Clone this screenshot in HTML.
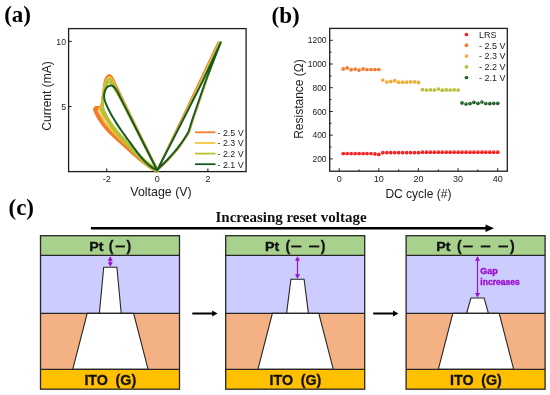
<!DOCTYPE html>
<html><head><meta charset="utf-8"><style>
html,body{margin:0;padding:0;background:#fff;width:550px;height:395px;overflow:hidden}
svg{display:block;will-change:transform}
</style></head><body>
<svg width="550" height="395" viewBox="0 0 550 395">
<rect width="550" height="395" fill="#fff"/>
<text x="4.2" y="22" font-family="'Liberation Serif', serif" font-weight="bold" font-size="23">(a)</text>
<text x="271.5" y="23.4" font-family="'Liberation Serif', serif" font-weight="bold" font-size="23">(b)</text>
<text x="8.5" y="215" font-family="'Liberation Serif', serif" font-weight="bold" font-size="23">(c)</text>
<rect x="68.6" y="28.6" width="177.5" height="143" fill="none" stroke="#1e1e1e" stroke-width="1.3"/>
<line x1="106.7" y1="171.6" x2="106.7" y2="168.6" stroke="#1e1e1e" stroke-width="1.1"/>
<text x="106.7" y="182" text-anchor="middle" font-family="'Liberation Sans', sans-serif" font-size="9" fill="#222">-2</text>
<line x1="157.3" y1="171.6" x2="157.3" y2="168.6" stroke="#1e1e1e" stroke-width="1.1"/>
<text x="157.3" y="182" text-anchor="middle" font-family="'Liberation Sans', sans-serif" font-size="9" fill="#222">0</text>
<line x1="207.9" y1="171.6" x2="207.9" y2="168.6" stroke="#1e1e1e" stroke-width="1.1"/>
<text x="207.9" y="182" text-anchor="middle" font-family="'Liberation Sans', sans-serif" font-size="9" fill="#222">2</text>
<line x1="68.6" y1="106.5" x2="71.6" y2="106.5" stroke="#1e1e1e" stroke-width="1.1"/>
<text x="66" y="109.8" text-anchor="end" font-family="'Liberation Sans', sans-serif" font-size="8.7" fill="#222">5</text>
<line x1="68.6" y1="41.4" x2="71.6" y2="41.4" stroke="#1e1e1e" stroke-width="1.1"/>
<text x="66" y="44.7" text-anchor="end" font-family="'Liberation Sans', sans-serif" font-size="8.7" fill="#222">10</text>
<text x="161" y="196" text-anchor="middle" font-family="'Liberation Sans', sans-serif" font-size="12.4" fill="#222">Voltage (V)</text>
<text transform="translate(51,96) rotate(-90)" text-anchor="middle" font-family="'Liberation Sans', sans-serif" font-size="12" fill="#222">Current (mA)</text>
<path d="M101.60,106.20 L100.50,108.20 L95.80,108.20 L95.40,109.20 L95.11,109.32 L95.44,110.17 L95.77,111.01 L96.13,111.85 L96.49,112.67 L96.87,113.48 L97.26,114.29 L97.67,115.08 L98.08,115.87 L98.51,116.64 L98.95,117.41 L99.40,118.17 L99.87,118.93 L100.34,119.67 L100.83,120.41 L101.32,121.14 L101.83,121.86 L102.34,122.58 L102.87,123.29 L103.40,123.99 L103.95,124.68 L104.50,125.37 L105.06,126.06 L105.62,126.74 L106.20,127.41 L106.78,128.08 L107.37,128.74 L107.97,129.39 L108.57,130.05 L109.18,130.69 L109.80,131.34 L110.42,131.98 L111.05,132.61 L111.68,133.24 L112.31,133.87 L112.95,134.50 L113.60,135.12 L114.25,135.74 L114.90,136.35 L115.56,136.97 L116.22,137.58 L116.88,138.19 L117.54,138.79 L118.21,139.40 L118.88,140.00 L119.55,140.61 L120.22,141.21 L120.89,141.81 L121.56,142.41 L122.23,143.01 L122.91,143.61 L123.58,144.21 L124.25,144.81 L124.92,145.41 L125.59,146.01 L126.26,146.61 L126.93,147.22 L127.60,147.82 L128.26,148.42 L128.93,149.02 L129.60,149.62 L130.26,150.22 L130.93,150.82 L131.59,151.42 L132.26,152.02 L132.93,152.61 L133.59,153.21 L134.26,153.80 L134.93,154.39 L135.60,154.98 L136.27,155.57 L136.94,156.15 L137.61,156.73 L138.29,157.31 L138.97,157.88 L139.64,158.45 L140.33,159.02 L141.01,159.58 L141.69,160.14 L142.38,160.69 L143.07,161.24 L143.77,161.79 L144.46,162.33 L145.16,162.86 L145.86,163.39 L146.57,163.92 L147.28,164.43 L147.99,164.95 L148.71,165.45 L149.43,165.96 L150.16,166.45 L150.89,166.94 L151.62,167.42 L152.36,167.89 L153.10,168.36 L153.85,168.82 L154.61,169.27 L155.36,169.71 L156.13,170.14 L156.90,170.57" fill="none" stroke="#F47A2C" stroke-width="4.2" stroke-linejoin="round" stroke-linecap="round"/>
<path d="M157.20,170.20 L122.20,98.90 L122.20,98.90 C121.13,96.67 117.50,89.02 115.80,85.50 C114.10,81.98 113.08,79.50 112.00,77.80 C110.92,76.10 110.20,75.35 109.30,75.30 C108.40,75.25 107.33,76.38 106.60,77.50 C105.87,78.62 105.40,79.75 104.90,82.00 C104.40,84.25 104.02,87.83 103.60,91.00 C103.18,94.17 102.73,98.47 102.40,101.00 C102.07,103.53 101.73,105.33 101.60,106.20" fill="none" stroke="#F47A2C" stroke-width="2.6" stroke-linejoin="round" stroke-linecap="round"/>
<path d="M157.20,170.20 L181.30,120.00 L199.90,81.00 L218.20,42.30 L219.60,42.30 L206.30,81.00 L192.90,120.00 L189.40,131.80 L189.40,131.80 C188.70,132.93 186.70,136.30 185.20,138.60 C183.70,140.90 182.10,143.28 180.40,145.60 C178.70,147.92 176.95,150.20 175.00,152.50 C173.05,154.80 170.90,157.12 168.70,159.40 C166.50,161.68 163.72,164.40 161.80,166.20 C159.88,168.00 157.97,169.53 157.20,170.20" fill="none" stroke="#F47A2C" stroke-width="1.8" stroke-linejoin="round" stroke-linecap="round"/>
<path d="M157.20,170.20 L121.20,97.50 L121.20,97.50 C120.22,95.63 116.87,89.35 115.30,86.30 C113.73,83.25 112.78,80.70 111.80,79.20 C110.82,77.70 110.23,77.28 109.40,77.30 C108.57,77.32 107.57,78.10 106.80,79.30 C106.03,80.50 105.43,82.22 104.80,84.50 C104.17,86.78 103.50,90.00 103.00,93.00 C102.50,96.00 102.17,100.17 101.80,102.50 C101.43,104.83 100.97,106.25 100.80,107.00 L99.40,108.20 L99.40,109.20 L99.40,109.20 C99.82,110.17 100.97,112.82 101.90,115.00 C102.83,117.18 103.48,119.88 105.00,122.30 C106.52,124.72 108.83,127.08 111.00,129.50 C113.17,131.92 115.30,134.13 118.00,136.80 C120.70,139.47 123.98,142.58 127.20,145.50 C130.42,148.42 134.78,151.77 137.30,154.30 C139.82,156.83 140.27,158.68 142.30,160.70 C144.33,162.72 147.02,164.82 149.50,166.40 C151.98,167.98 155.92,169.57 157.20,170.20" fill="none" stroke="#F2C83C" stroke-width="2.0" stroke-linejoin="round" stroke-linecap="round"/>
<path d="M157.20,170.20 L182.00,120.00 L200.90,81.00 L219.00,42.30 L220.10,42.30 L206.10,81.00 L192.70,120.00 L189.10,131.80 L189.10,131.80 C188.40,132.93 186.40,136.32 184.90,138.60 C183.40,140.88 181.80,143.22 180.10,145.50 C178.40,147.78 176.63,150.02 174.70,152.30 C172.77,154.58 170.68,156.92 168.50,159.20 C166.32,161.48 163.48,164.17 161.60,166.00 C159.72,167.83 157.93,169.50 157.20,170.20" fill="none" stroke="#F2C83C" stroke-width="1.5" stroke-linejoin="round" stroke-linecap="round"/>
<path d="M157.20,170.20 L120.00,97.50 L120.00,97.50 C119.08,96.00 115.90,90.83 114.50,88.50 C113.10,86.17 112.43,84.55 111.60,83.50 C110.77,82.45 110.23,82.20 109.50,82.20 C108.77,82.20 107.90,82.45 107.20,83.50 C106.50,84.55 105.90,86.58 105.30,88.50 C104.70,90.42 104.02,92.58 103.60,95.00 C103.18,97.42 102.97,100.75 102.80,103.00 C102.63,105.25 102.63,107.58 102.60,108.50" fill="none" stroke="#B9BF34" stroke-width="2.6" stroke-linejoin="round" stroke-linecap="round"/>
<path d="M157.20,170.20 L120.20,96.50 L120.20,96.50 C119.25,94.83 115.93,89.08 114.50,86.50 C113.07,83.92 112.43,82.20 111.60,81.00 C110.77,79.80 110.23,79.30 109.50,79.30 C108.77,79.30 107.90,79.80 107.20,81.00 C106.50,82.20 105.90,84.33 105.30,86.50 C104.70,88.67 104.05,91.25 103.60,94.00 C103.15,96.75 102.83,100.58 102.60,103.00 C102.37,105.42 102.27,107.58 102.20,108.50" fill="none" stroke="#B9BF34" stroke-width="2.4" stroke-linejoin="round" stroke-linecap="round"/>
<path d="M102.13,108.57 L102.45,109.37 L102.77,110.16 L103.10,110.94 L103.44,111.72 L103.79,112.49 L104.14,113.26 L104.51,114.02 L104.89,114.77 L105.28,115.52 L105.67,116.26 L106.07,117.00 L106.48,117.74 L106.90,118.46 L107.33,119.19 L107.77,119.91 L108.21,120.62 L108.66,121.33 L109.11,122.03 L109.58,122.74 L110.05,123.43 L110.53,124.12 L111.01,124.81 L111.50,125.50 L111.99,126.18 L112.49,126.85 L113.00,127.53 L113.51,128.19 L114.03,128.86 L114.55,129.52 L115.08,130.18 L115.61,130.84 L116.15,131.49 L116.69,132.15 L117.23,132.79 L117.78,133.44 L118.33,134.08 L118.89,134.72 L119.45,135.36 L120.01,136.00 L120.58,136.63 L121.15,137.27 L121.72,137.90 L122.29,138.53 L122.86,139.16 L123.44,139.78 L124.02,140.41 L124.60,141.03 L125.18,141.66 L125.77,142.28 L126.35,142.90 L126.94,143.52 L127.52,144.14 L128.11,144.76 L128.69,145.38 L129.28,146.00 L129.87,146.61 L130.46,147.23 L131.04,147.85 L131.63,148.46 L132.22,149.08 L132.81,149.69 L133.40,150.31 L133.99,150.92 L134.58,151.53 L135.18,152.13 L135.77,152.74 L136.37,153.34 L136.97,153.94 L137.57,154.54 L138.17,155.14 L138.77,155.73 L139.38,156.32 L139.98,156.91 L140.59,157.49 L141.20,158.07 L141.82,158.65 L142.43,159.22 L143.05,159.79 L143.68,160.35 L144.30,160.91 L144.93,161.47 L145.56,162.02 L146.20,162.57 L146.84,163.11 L147.48,163.64 L148.12,164.17 L148.77,164.70 L149.42,165.22 L150.08,165.73 L150.74,166.24 L151.41,166.74 L152.08,167.24 L152.75,167.73 L153.43,168.21 L154.11,168.69 L154.80,169.16 L155.49,169.62 L156.19,170.07 L156.89,170.52" fill="none" stroke="#B9BF34" stroke-width="4.2" stroke-linejoin="round" stroke-linecap="round"/>
<path d="M157.20,170.20 L182.50,120.00 L201.80,81.00 L219.80,42.30 L220.50,42.30 L205.90,81.00 L192.50,120.00 L188.80,131.80 L188.80,131.80 C188.10,132.92 186.10,136.23 184.60,138.50 C183.10,140.77 181.50,143.12 179.80,145.40 C178.10,147.68 176.33,149.92 174.40,152.20 C172.47,154.48 170.37,156.82 168.20,159.10 C166.03,161.38 163.23,164.05 161.40,165.90 C159.57,167.75 157.90,169.48 157.20,170.20" fill="none" stroke="#B9BF34" stroke-width="1.5" stroke-linejoin="round" stroke-linecap="round"/>
<path d="M157.20,170.20 L121.00,98.90 L120.96,98.89 L120.66,98.34 L120.35,97.69 L120.00,96.97 L119.64,96.18 L119.25,95.34 L118.84,94.46 L118.41,93.55 L117.95,92.63 L117.47,91.71 L116.96,90.80 L116.43,89.93 L115.87,89.09 L115.29,88.32 L114.68,87.61 L114.05,86.98 L113.38,86.45 L112.69,86.04 L111.98,85.74 L111.24,85.58 L110.48,85.55 L109.73,85.65 L109.00,85.89 L108.29,86.25 L107.62,86.74 L107.00,87.35 L106.43,88.07 L105.92,88.87 L105.46,89.73 L105.07,90.65 L104.74,91.59 L104.48,92.54 L104.29,93.49 L104.16,94.42 L104.10,95.34 L104.10,96.24 L104.16,97.13 L104.26,98.00 L104.41,98.87 L104.60,99.72 L104.83,100.57 L105.09,101.41 L105.38,102.23 L105.69,103.06 L106.03,103.87 L106.37,104.69 L106.72,105.49 L107.08,106.30 L107.45,107.10 L107.83,107.90 L108.21,108.70 L108.59,109.49 L108.99,110.28 L109.39,111.07 L109.80,111.86 L110.21,112.64 L110.63,113.42 L111.05,114.20 L111.48,114.97 L111.92,115.75 L112.36,116.52 L112.80,117.28 L113.25,118.05 L113.71,118.81 L114.17,119.57 L114.63,120.33 L115.10,121.09 L115.58,121.85 L116.06,122.60 L116.54,123.35 L117.02,124.10 L117.51,124.85 L118.00,125.60 L118.50,126.34 L119.00,127.08 L119.50,127.83 L120.01,128.57 L120.52,129.31 L121.03,130.04 L121.54,130.78 L122.06,131.51 L122.58,132.25 L123.10,132.98 L123.62,133.71 L124.14,134.44 L124.67,135.17 L125.20,135.90 L125.73,136.63 L126.26,137.36 L126.79,138.09 L127.32,138.81 L127.85,139.54 L128.39,140.27 L128.92,140.99 L129.46,141.71 L129.99,142.44 L130.53,143.16 L131.06,143.89 L131.60,144.61 L132.13,145.33 L132.66,146.06 L133.20,146.78 L133.73,147.51 L134.26,148.23 L134.79,148.95 L135.32,149.68 L135.86,150.40 L136.39,151.12 L136.92,151.84 L137.46,152.55 L137.99,153.27 L138.54,153.98 L139.08,154.68 L139.63,155.38 L140.18,156.08 L140.74,156.77 L141.31,157.45 L141.88,158.12 L142.46,158.79 L143.04,159.45 L143.64,160.11 L144.24,160.75 L144.86,161.38 L145.48,162.01 L146.11,162.62 L146.76,163.23 L147.41,163.82 L148.08,164.40 L148.76,164.96 L149.45,165.52 L150.16,166.05 L150.88,166.58 L151.62,167.09 L152.37,167.59 L153.14,168.07 L153.93,168.53 L154.73,168.98 L155.55,169.41 L156.39,169.82 L157.25,170.21" fill="none" stroke="#145C24" stroke-width="2.0" stroke-linejoin="round" stroke-linecap="round"/>
<path d="M157.20,170.20 L183.00,120.00 L202.80,81.00 L220.80,42.30 L220.80,42.30 L205.60,81.00 L192.20,120.00 L188.50,131.70 L188.50,131.70 C187.82,132.83 185.88,136.22 184.40,138.50 C182.92,140.78 181.30,143.12 179.60,145.40 C177.90,147.68 176.13,149.93 174.20,152.20 C172.27,154.47 170.17,156.72 168.00,159.00 C165.83,161.28 163.00,164.03 161.20,165.90 C159.40,167.77 157.87,169.48 157.20,170.20" fill="none" stroke="#145C24" stroke-width="1.9" stroke-linejoin="round" stroke-linecap="round"/>
<line x1="195" y1="132.3" x2="215.5" y2="132.3" stroke="#F47A2C" stroke-width="1.8"/>
<text x="217.6" y="135.6" font-family="'Liberation Sans', sans-serif" font-size="8.8" fill="#222">- 2.5 V</text>
<line x1="195" y1="143.0" x2="215.5" y2="143.0" stroke="#F2C83C" stroke-width="1.8"/>
<text x="217.6" y="146.3" font-family="'Liberation Sans', sans-serif" font-size="8.8" fill="#222">- 2.3 V</text>
<line x1="195" y1="153.6" x2="215.5" y2="153.6" stroke="#B9BF34" stroke-width="1.8"/>
<text x="217.6" y="156.9" font-family="'Liberation Sans', sans-serif" font-size="8.8" fill="#222">- 2.2 V</text>
<line x1="195" y1="164.2" x2="215.5" y2="164.2" stroke="#145C24" stroke-width="1.8"/>
<text x="217.6" y="167.6" font-family="'Liberation Sans', sans-serif" font-size="8.8" fill="#222">- 2.1 V</text>
<rect x="329.7" y="28.4" width="177.6" height="142.8" fill="none" stroke="#1e1e1e" stroke-width="1.3"/>
<line x1="339.2" y1="171.2" x2="339.2" y2="168.2" stroke="#1e1e1e" stroke-width="1"/>
<text x="339.2" y="181.5" text-anchor="middle" font-family="'Liberation Sans', sans-serif" font-size="9" fill="#222">0</text>
<line x1="359.0" y1="171.2" x2="359.0" y2="169.4" stroke="#1e1e1e" stroke-width="1"/>
<line x1="378.8" y1="171.2" x2="378.8" y2="168.2" stroke="#1e1e1e" stroke-width="1"/>
<text x="378.8" y="181.5" text-anchor="middle" font-family="'Liberation Sans', sans-serif" font-size="9" fill="#222">10</text>
<line x1="398.6" y1="171.2" x2="398.6" y2="169.4" stroke="#1e1e1e" stroke-width="1"/>
<line x1="418.4" y1="171.2" x2="418.4" y2="168.2" stroke="#1e1e1e" stroke-width="1"/>
<text x="418.4" y="181.5" text-anchor="middle" font-family="'Liberation Sans', sans-serif" font-size="9" fill="#222">20</text>
<line x1="438.3" y1="171.2" x2="438.3" y2="169.4" stroke="#1e1e1e" stroke-width="1"/>
<line x1="458.1" y1="171.2" x2="458.1" y2="168.2" stroke="#1e1e1e" stroke-width="1"/>
<text x="458.1" y="181.5" text-anchor="middle" font-family="'Liberation Sans', sans-serif" font-size="9" fill="#222">30</text>
<line x1="477.9" y1="171.2" x2="477.9" y2="169.4" stroke="#1e1e1e" stroke-width="1"/>
<line x1="497.7" y1="171.2" x2="497.7" y2="168.2" stroke="#1e1e1e" stroke-width="1"/>
<text x="497.7" y="181.5" text-anchor="middle" font-family="'Liberation Sans', sans-serif" font-size="9" fill="#222">40</text>
<line x1="329.7" y1="158.9" x2="332.7" y2="158.9" stroke="#1e1e1e" stroke-width="1"/>
<text x="326.6" y="161.9" text-anchor="end" font-family="'Liberation Sans', sans-serif" font-size="8.5" fill="#222">200</text>
<line x1="329.7" y1="147.0" x2="331.5" y2="147.0" stroke="#1e1e1e" stroke-width="1"/>
<line x1="329.7" y1="135.2" x2="332.7" y2="135.2" stroke="#1e1e1e" stroke-width="1"/>
<text x="326.6" y="138.2" text-anchor="end" font-family="'Liberation Sans', sans-serif" font-size="8.5" fill="#222">400</text>
<line x1="329.7" y1="123.3" x2="331.5" y2="123.3" stroke="#1e1e1e" stroke-width="1"/>
<line x1="329.7" y1="111.5" x2="332.7" y2="111.5" stroke="#1e1e1e" stroke-width="1"/>
<text x="326.6" y="114.5" text-anchor="end" font-family="'Liberation Sans', sans-serif" font-size="8.5" fill="#222">600</text>
<line x1="329.7" y1="99.6" x2="331.5" y2="99.6" stroke="#1e1e1e" stroke-width="1"/>
<line x1="329.7" y1="87.7" x2="332.7" y2="87.7" stroke="#1e1e1e" stroke-width="1"/>
<text x="326.6" y="90.7" text-anchor="end" font-family="'Liberation Sans', sans-serif" font-size="8.5" fill="#222">800</text>
<line x1="329.7" y1="75.9" x2="331.5" y2="75.9" stroke="#1e1e1e" stroke-width="1"/>
<line x1="329.7" y1="64.0" x2="332.7" y2="64.0" stroke="#1e1e1e" stroke-width="1"/>
<text x="326.6" y="67.0" text-anchor="end" font-family="'Liberation Sans', sans-serif" font-size="8.5" fill="#222">1000</text>
<line x1="329.7" y1="52.2" x2="331.5" y2="52.2" stroke="#1e1e1e" stroke-width="1"/>
<line x1="329.7" y1="40.3" x2="332.7" y2="40.3" stroke="#1e1e1e" stroke-width="1"/>
<text x="326.6" y="43.3" text-anchor="end" font-family="'Liberation Sans', sans-serif" font-size="8.5" fill="#222">1200</text>
<text x="418.4" y="198.4" text-anchor="middle" font-family="'Liberation Sans', sans-serif" font-size="12" fill="#222">DC cycle (#)</text>
<text transform="translate(303.2,99) rotate(-90)" text-anchor="middle" font-family="'Liberation Sans', sans-serif" font-size="12" fill="#222">Resistance (Ω)</text>
<circle cx="343.2" cy="153.5" r="1.85" fill="#FA1414"/>
<circle cx="342.7" cy="152.9" r="0.6" fill="#fff" fill-opacity="0.45"/>
<circle cx="347.1" cy="153.5" r="1.85" fill="#FA1414"/>
<circle cx="346.6" cy="152.9" r="0.6" fill="#fff" fill-opacity="0.45"/>
<circle cx="351.1" cy="153.5" r="1.85" fill="#FA1414"/>
<circle cx="350.6" cy="152.9" r="0.6" fill="#fff" fill-opacity="0.45"/>
<circle cx="355.1" cy="153.5" r="1.85" fill="#FA1414"/>
<circle cx="354.6" cy="152.9" r="0.6" fill="#fff" fill-opacity="0.45"/>
<circle cx="359.0" cy="153.5" r="1.85" fill="#FA1414"/>
<circle cx="358.5" cy="152.9" r="0.6" fill="#fff" fill-opacity="0.45"/>
<circle cx="363.0" cy="153.5" r="1.85" fill="#FA1414"/>
<circle cx="362.5" cy="152.9" r="0.6" fill="#fff" fill-opacity="0.45"/>
<circle cx="366.9" cy="153.5" r="1.85" fill="#FA1414"/>
<circle cx="366.4" cy="152.9" r="0.6" fill="#fff" fill-opacity="0.45"/>
<circle cx="370.9" cy="153.5" r="1.85" fill="#FA1414"/>
<circle cx="370.4" cy="152.9" r="0.6" fill="#fff" fill-opacity="0.45"/>
<circle cx="374.9" cy="153.9" r="1.85" fill="#FA1414"/>
<circle cx="374.4" cy="153.3" r="0.6" fill="#fff" fill-opacity="0.45"/>
<circle cx="378.8" cy="154.4" r="1.85" fill="#FA1414"/>
<circle cx="378.3" cy="153.8" r="0.6" fill="#fff" fill-opacity="0.45"/>
<circle cx="382.8" cy="152.6" r="1.85" fill="#FA1414"/>
<circle cx="382.3" cy="152.0" r="0.6" fill="#fff" fill-opacity="0.45"/>
<circle cx="386.8" cy="152.6" r="1.85" fill="#FA1414"/>
<circle cx="386.2" cy="152.0" r="0.6" fill="#fff" fill-opacity="0.45"/>
<circle cx="390.7" cy="152.6" r="1.85" fill="#FA1414"/>
<circle cx="390.2" cy="152.0" r="0.6" fill="#fff" fill-opacity="0.45"/>
<circle cx="394.7" cy="152.6" r="1.85" fill="#FA1414"/>
<circle cx="394.2" cy="152.0" r="0.6" fill="#fff" fill-opacity="0.45"/>
<circle cx="398.6" cy="152.6" r="1.85" fill="#FA1414"/>
<circle cx="398.1" cy="152.0" r="0.6" fill="#fff" fill-opacity="0.45"/>
<circle cx="402.6" cy="152.6" r="1.85" fill="#FA1414"/>
<circle cx="402.1" cy="152.0" r="0.6" fill="#fff" fill-opacity="0.45"/>
<circle cx="406.6" cy="152.6" r="1.85" fill="#FA1414"/>
<circle cx="406.1" cy="152.0" r="0.6" fill="#fff" fill-opacity="0.45"/>
<circle cx="410.5" cy="152.6" r="1.85" fill="#FA1414"/>
<circle cx="410.0" cy="152.0" r="0.6" fill="#fff" fill-opacity="0.45"/>
<circle cx="414.5" cy="152.6" r="1.85" fill="#FA1414"/>
<circle cx="414.0" cy="152.0" r="0.6" fill="#fff" fill-opacity="0.45"/>
<circle cx="418.4" cy="152.6" r="1.85" fill="#FA1414"/>
<circle cx="417.9" cy="152.0" r="0.6" fill="#fff" fill-opacity="0.45"/>
<circle cx="422.4" cy="152.2" r="1.85" fill="#FA1414"/>
<circle cx="421.9" cy="151.6" r="0.6" fill="#fff" fill-opacity="0.45"/>
<circle cx="426.4" cy="152.2" r="1.85" fill="#FA1414"/>
<circle cx="425.9" cy="151.6" r="0.6" fill="#fff" fill-opacity="0.45"/>
<circle cx="430.3" cy="152.2" r="1.85" fill="#FA1414"/>
<circle cx="429.8" cy="151.6" r="0.6" fill="#fff" fill-opacity="0.45"/>
<circle cx="434.3" cy="152.2" r="1.85" fill="#FA1414"/>
<circle cx="433.8" cy="151.6" r="0.6" fill="#fff" fill-opacity="0.45"/>
<circle cx="438.3" cy="152.2" r="1.85" fill="#FA1414"/>
<circle cx="437.8" cy="151.6" r="0.6" fill="#fff" fill-opacity="0.45"/>
<circle cx="442.2" cy="152.2" r="1.85" fill="#FA1414"/>
<circle cx="441.7" cy="151.6" r="0.6" fill="#fff" fill-opacity="0.45"/>
<circle cx="446.2" cy="152.2" r="1.85" fill="#FA1414"/>
<circle cx="445.7" cy="151.6" r="0.6" fill="#fff" fill-opacity="0.45"/>
<circle cx="450.1" cy="152.2" r="1.85" fill="#FA1414"/>
<circle cx="449.6" cy="151.6" r="0.6" fill="#fff" fill-opacity="0.45"/>
<circle cx="454.1" cy="152.2" r="1.85" fill="#FA1414"/>
<circle cx="453.6" cy="151.6" r="0.6" fill="#fff" fill-opacity="0.45"/>
<circle cx="458.1" cy="152.2" r="1.85" fill="#FA1414"/>
<circle cx="457.6" cy="151.6" r="0.6" fill="#fff" fill-opacity="0.45"/>
<circle cx="462.0" cy="152.2" r="1.85" fill="#FA1414"/>
<circle cx="461.5" cy="151.6" r="0.6" fill="#fff" fill-opacity="0.45"/>
<circle cx="466.0" cy="152.2" r="1.85" fill="#FA1414"/>
<circle cx="465.5" cy="151.6" r="0.6" fill="#fff" fill-opacity="0.45"/>
<circle cx="470.0" cy="152.2" r="1.85" fill="#FA1414"/>
<circle cx="469.5" cy="151.6" r="0.6" fill="#fff" fill-opacity="0.45"/>
<circle cx="473.9" cy="152.2" r="1.85" fill="#FA1414"/>
<circle cx="473.4" cy="151.6" r="0.6" fill="#fff" fill-opacity="0.45"/>
<circle cx="477.9" cy="152.2" r="1.85" fill="#FA1414"/>
<circle cx="477.4" cy="151.6" r="0.6" fill="#fff" fill-opacity="0.45"/>
<circle cx="481.9" cy="152.2" r="1.85" fill="#FA1414"/>
<circle cx="481.4" cy="151.6" r="0.6" fill="#fff" fill-opacity="0.45"/>
<circle cx="485.8" cy="152.2" r="1.85" fill="#FA1414"/>
<circle cx="485.3" cy="151.6" r="0.6" fill="#fff" fill-opacity="0.45"/>
<circle cx="489.8" cy="152.2" r="1.85" fill="#FA1414"/>
<circle cx="489.3" cy="151.6" r="0.6" fill="#fff" fill-opacity="0.45"/>
<circle cx="493.7" cy="152.2" r="1.85" fill="#FA1414"/>
<circle cx="493.2" cy="151.6" r="0.6" fill="#fff" fill-opacity="0.45"/>
<circle cx="497.7" cy="152.2" r="1.85" fill="#FA1414"/>
<circle cx="497.2" cy="151.6" r="0.6" fill="#fff" fill-opacity="0.45"/>
<circle cx="343.2" cy="68.9" r="1.85" fill="#F4731F"/>
<circle cx="342.7" cy="68.3" r="0.6" fill="#fff" fill-opacity="0.45"/>
<circle cx="347.1" cy="67.9" r="1.85" fill="#F4731F"/>
<circle cx="346.6" cy="67.3" r="0.6" fill="#fff" fill-opacity="0.45"/>
<circle cx="351.1" cy="69.7" r="1.85" fill="#F4731F"/>
<circle cx="350.6" cy="69.1" r="0.6" fill="#fff" fill-opacity="0.45"/>
<circle cx="355.1" cy="69.1" r="1.85" fill="#F4731F"/>
<circle cx="354.6" cy="68.5" r="0.6" fill="#fff" fill-opacity="0.45"/>
<circle cx="359.0" cy="70.1" r="1.85" fill="#F4731F"/>
<circle cx="358.5" cy="69.5" r="0.6" fill="#fff" fill-opacity="0.45"/>
<circle cx="363.0" cy="68.9" r="1.85" fill="#F4731F"/>
<circle cx="362.5" cy="68.3" r="0.6" fill="#fff" fill-opacity="0.45"/>
<circle cx="366.9" cy="69.5" r="1.85" fill="#F4731F"/>
<circle cx="366.4" cy="68.9" r="0.6" fill="#fff" fill-opacity="0.45"/>
<circle cx="370.9" cy="69.5" r="1.85" fill="#F4731F"/>
<circle cx="370.4" cy="68.9" r="0.6" fill="#fff" fill-opacity="0.45"/>
<circle cx="374.9" cy="69.5" r="1.85" fill="#F4731F"/>
<circle cx="374.4" cy="68.9" r="0.6" fill="#fff" fill-opacity="0.45"/>
<circle cx="378.8" cy="69.5" r="1.85" fill="#F4731F"/>
<circle cx="378.3" cy="68.9" r="0.6" fill="#fff" fill-opacity="0.45"/>
<circle cx="382.8" cy="80.0" r="1.85" fill="#F4A626"/>
<circle cx="382.3" cy="79.4" r="0.6" fill="#fff" fill-opacity="0.45"/>
<circle cx="386.8" cy="82.0" r="1.85" fill="#F4A626"/>
<circle cx="386.2" cy="81.4" r="0.6" fill="#fff" fill-opacity="0.45"/>
<circle cx="390.7" cy="81.6" r="1.85" fill="#F4A626"/>
<circle cx="390.2" cy="81.0" r="0.6" fill="#fff" fill-opacity="0.45"/>
<circle cx="394.7" cy="80.6" r="1.85" fill="#F4A626"/>
<circle cx="394.2" cy="80.0" r="0.6" fill="#fff" fill-opacity="0.45"/>
<circle cx="398.6" cy="82.2" r="1.85" fill="#F4A626"/>
<circle cx="398.1" cy="81.6" r="0.6" fill="#fff" fill-opacity="0.45"/>
<circle cx="402.6" cy="82.2" r="1.85" fill="#F4A626"/>
<circle cx="402.1" cy="81.6" r="0.6" fill="#fff" fill-opacity="0.45"/>
<circle cx="406.6" cy="82.2" r="1.85" fill="#F4A626"/>
<circle cx="406.1" cy="81.6" r="0.6" fill="#fff" fill-opacity="0.45"/>
<circle cx="410.5" cy="81.8" r="1.85" fill="#F4A626"/>
<circle cx="410.0" cy="81.2" r="0.6" fill="#fff" fill-opacity="0.45"/>
<circle cx="414.5" cy="81.8" r="1.85" fill="#F4A626"/>
<circle cx="414.0" cy="81.2" r="0.6" fill="#fff" fill-opacity="0.45"/>
<circle cx="418.4" cy="82.4" r="1.85" fill="#F4A626"/>
<circle cx="417.9" cy="81.8" r="0.6" fill="#fff" fill-opacity="0.45"/>
<circle cx="422.4" cy="89.6" r="1.85" fill="#B0BC2C"/>
<circle cx="421.9" cy="89.0" r="0.6" fill="#fff" fill-opacity="0.45"/>
<circle cx="426.4" cy="90.0" r="1.85" fill="#B0BC2C"/>
<circle cx="425.9" cy="89.4" r="0.6" fill="#fff" fill-opacity="0.45"/>
<circle cx="430.3" cy="89.8" r="1.85" fill="#B0BC2C"/>
<circle cx="429.8" cy="89.2" r="0.6" fill="#fff" fill-opacity="0.45"/>
<circle cx="434.3" cy="90.0" r="1.85" fill="#B0BC2C"/>
<circle cx="433.8" cy="89.4" r="0.6" fill="#fff" fill-opacity="0.45"/>
<circle cx="438.3" cy="89.0" r="1.85" fill="#B0BC2C"/>
<circle cx="437.8" cy="88.4" r="0.6" fill="#fff" fill-opacity="0.45"/>
<circle cx="442.2" cy="90.2" r="1.85" fill="#B0BC2C"/>
<circle cx="441.7" cy="89.6" r="0.6" fill="#fff" fill-opacity="0.45"/>
<circle cx="446.2" cy="89.8" r="1.85" fill="#B0BC2C"/>
<circle cx="445.7" cy="89.2" r="0.6" fill="#fff" fill-opacity="0.45"/>
<circle cx="450.1" cy="90.0" r="1.85" fill="#B0BC2C"/>
<circle cx="449.6" cy="89.4" r="0.6" fill="#fff" fill-opacity="0.45"/>
<circle cx="454.1" cy="89.8" r="1.85" fill="#B0BC2C"/>
<circle cx="453.6" cy="89.2" r="0.6" fill="#fff" fill-opacity="0.45"/>
<circle cx="458.1" cy="90.0" r="1.85" fill="#B0BC2C"/>
<circle cx="457.6" cy="89.4" r="0.6" fill="#fff" fill-opacity="0.45"/>
<circle cx="462.0" cy="102.9" r="1.85" fill="#1A5E26"/>
<circle cx="461.5" cy="102.3" r="0.6" fill="#fff" fill-opacity="0.45"/>
<circle cx="466.0" cy="104.0" r="1.85" fill="#1A5E26"/>
<circle cx="465.5" cy="103.4" r="0.6" fill="#fff" fill-opacity="0.45"/>
<circle cx="470.0" cy="103.6" r="1.85" fill="#1A5E26"/>
<circle cx="469.5" cy="103.0" r="0.6" fill="#fff" fill-opacity="0.45"/>
<circle cx="473.9" cy="102.3" r="1.85" fill="#1A5E26"/>
<circle cx="473.4" cy="101.7" r="0.6" fill="#fff" fill-opacity="0.45"/>
<circle cx="477.9" cy="103.3" r="1.85" fill="#1A5E26"/>
<circle cx="477.4" cy="102.7" r="0.6" fill="#fff" fill-opacity="0.45"/>
<circle cx="481.9" cy="102.0" r="1.85" fill="#1A5E26"/>
<circle cx="481.4" cy="101.4" r="0.6" fill="#fff" fill-opacity="0.45"/>
<circle cx="485.8" cy="103.5" r="1.85" fill="#1A5E26"/>
<circle cx="485.3" cy="102.9" r="0.6" fill="#fff" fill-opacity="0.45"/>
<circle cx="489.8" cy="103.6" r="1.85" fill="#1A5E26"/>
<circle cx="489.3" cy="103.0" r="0.6" fill="#fff" fill-opacity="0.45"/>
<circle cx="493.7" cy="103.3" r="1.85" fill="#1A5E26"/>
<circle cx="493.2" cy="102.7" r="0.6" fill="#fff" fill-opacity="0.45"/>
<circle cx="497.7" cy="103.3" r="1.85" fill="#1A5E26"/>
<circle cx="497.2" cy="102.7" r="0.6" fill="#fff" fill-opacity="0.45"/>
<circle cx="466.4" cy="34.5" r="1.85" fill="#FA1414"/>
<circle cx="465.9" cy="33.9" r="0.6" fill="#fff" fill-opacity="0.45"/>
<text x="479" y="37.7" font-family="'Liberation Sans', sans-serif" font-size="9" fill="#222">LRS</text>
<circle cx="466.4" cy="45.2" r="1.85" fill="#F4731F"/>
<circle cx="465.9" cy="44.6" r="0.6" fill="#fff" fill-opacity="0.45"/>
<text x="479" y="48.5" font-family="'Liberation Sans', sans-serif" font-size="9" fill="#222">- 2.5 V</text>
<circle cx="466.4" cy="56.0" r="1.85" fill="#F4A626"/>
<circle cx="465.9" cy="55.4" r="0.6" fill="#fff" fill-opacity="0.45"/>
<text x="479" y="59.2" font-family="'Liberation Sans', sans-serif" font-size="9" fill="#222">- 2.3 V</text>
<circle cx="466.4" cy="66.8" r="1.85" fill="#B0BC2C"/>
<circle cx="465.9" cy="66.2" r="0.6" fill="#fff" fill-opacity="0.45"/>
<text x="479" y="70.0" font-family="'Liberation Sans', sans-serif" font-size="9" fill="#222">- 2.2 V</text>
<circle cx="466.4" cy="77.5" r="1.85" fill="#1A5E26"/>
<circle cx="465.9" cy="76.9" r="0.6" fill="#fff" fill-opacity="0.45"/>
<text x="479" y="80.7" font-family="'Liberation Sans', sans-serif" font-size="9" fill="#222">- 2.1 V</text>
<text x="215.5" y="221.5" font-family="'Liberation Serif', serif" font-weight="bold" font-size="15" fill="#111">Increasing reset voltage</text>
<line x1="90.9" y1="228.2" x2="487" y2="228.2" stroke="#000" stroke-width="2.6"/>
<polygon points="485.5,224.4 494,228.2 485.5,232" fill="#000"/>
<rect x="40.5" y="235.7" width="139" height="19.600000000000023" fill="#A9D18E"/>
<rect x="40.5" y="255.3" width="139" height="58.0" fill="#CCCCFF"/>
<rect x="40.5" y="313.3" width="139" height="56.099999999999966" fill="#F4B183"/>
<rect x="40.5" y="369.4" width="139" height="19.80000000000001" fill="#FFC000"/>
<polygon points="87.2,313.3 133.6,313.3 148.1,369.4 72.7,369.4" fill="#fff" stroke="#262626" stroke-width="1.1"/>
<polygon points="103.7,267.2 116.9,267.2 121.2,313.3 99.4,313.3" fill="#fff" stroke="#262626" stroke-width="1.1"/>
<line x1="40.5" y1="255.3" x2="179.5" y2="255.3" stroke="#262626" stroke-width="1.2"/>
<line x1="40.5" y1="313.3" x2="179.5" y2="313.3" stroke="#262626" stroke-width="1.2"/>
<line x1="40.5" y1="369.4" x2="179.5" y2="369.4" stroke="#262626" stroke-width="1.2"/>
<rect x="40.5" y="235.7" width="139" height="153.5" fill="none" stroke="#262626" stroke-width="1.3"/>
<line x1="110.3" y1="259.8" x2="110.3" y2="263.2" stroke="#9B10D0" stroke-width="1.2"/>
<polygon points="107.8,260.8 110.3,256.3 112.8,260.8" fill="#9B10D0"/>
<polygon points="107.8,262.2 110.3,266.7 112.8,262.2" fill="#9B10D0"/>
<text x="89.2" y="250.8" font-family="'Liberation Sans', sans-serif" font-weight="bold" font-size="13.2" textLength="14.2" lengthAdjust="spacingAndGlyphs" stroke="#111" stroke-width="0.3" fill="#111">Pt</text>
<text x="108.8" y="251.2" font-family="'Liberation Sans', sans-serif" font-weight="bold" font-size="14" stroke="#111" stroke-width="0.3" fill="#111">(</text>
<rect x="115.5" y="245.5" width="9.5" height="1.9" fill="#111"/>
<text x="126.6" y="251.2" font-family="'Liberation Sans', sans-serif" font-weight="bold" font-size="14" stroke="#111" stroke-width="0.3" fill="#111">)</text>
<text x="110.3" y="384.9" text-anchor="middle" font-family="'Liberation Sans', sans-serif" font-weight="bold" font-size="14.3" word-spacing="3.6" stroke="#111" stroke-width="0.3" fill="#111">ITO (G)</text>
<rect x="225.7" y="235.7" width="139" height="19.600000000000023" fill="#A9D18E"/>
<rect x="225.7" y="255.3" width="139" height="58.0" fill="#CCCCFF"/>
<rect x="225.7" y="313.3" width="139" height="56.099999999999966" fill="#F4B183"/>
<rect x="225.7" y="369.4" width="139" height="19.80000000000001" fill="#FFC000"/>
<polygon points="272.4,313.3 318.8,313.3 333.3,369.4 257.9,369.4" fill="#fff" stroke="#262626" stroke-width="1.1"/>
<polygon points="290.9,279.2 304.1,279.2 308.4,313.3 286.6,313.3" fill="#fff" stroke="#262626" stroke-width="1.1"/>
<line x1="225.7" y1="255.3" x2="364.7" y2="255.3" stroke="#262626" stroke-width="1.2"/>
<line x1="225.7" y1="313.3" x2="364.7" y2="313.3" stroke="#262626" stroke-width="1.2"/>
<line x1="225.7" y1="369.4" x2="364.7" y2="369.4" stroke="#262626" stroke-width="1.2"/>
<rect x="225.7" y="235.7" width="139" height="153.5" fill="none" stroke="#262626" stroke-width="1.3"/>
<line x1="297.5" y1="259.8" x2="297.5" y2="275.2" stroke="#9B10D0" stroke-width="1.2"/>
<polygon points="295.0,260.8 297.5,256.3 300.0,260.8" fill="#9B10D0"/>
<polygon points="295.0,274.2 297.5,278.7 300.0,274.2" fill="#9B10D0"/>
<text x="265.09999999999997" y="250.8" font-family="'Liberation Sans', sans-serif" font-weight="bold" font-size="13.2" textLength="14.2" lengthAdjust="spacingAndGlyphs" stroke="#111" stroke-width="0.3" fill="#111">Pt</text>
<text x="285.40000000000003" y="251.2" font-family="'Liberation Sans', sans-serif" font-weight="bold" font-size="14" stroke="#111" stroke-width="0.3" fill="#111">(</text>
<rect x="291.2" y="245.5" width="10.199999999999989" height="1.9" fill="#111"/>
<rect x="309" y="245.5" width="10.199999999999989" height="1.9" fill="#111"/>
<text x="320.70000000000005" y="251.2" font-family="'Liberation Sans', sans-serif" font-weight="bold" font-size="14" stroke="#111" stroke-width="0.3" fill="#111">)</text>
<text x="295.5" y="384.9" text-anchor="middle" font-family="'Liberation Sans', sans-serif" font-weight="bold" font-size="14.3" word-spacing="3.6" stroke="#111" stroke-width="0.3" fill="#111">ITO (G)</text>
<rect x="406.1" y="235.7" width="139" height="19.600000000000023" fill="#A9D18E"/>
<rect x="406.1" y="255.3" width="139" height="58.0" fill="#CCCCFF"/>
<rect x="406.1" y="313.3" width="139" height="56.099999999999966" fill="#F4B183"/>
<rect x="406.1" y="369.4" width="139" height="19.80000000000001" fill="#FFC000"/>
<polygon points="452.8,313.3 499.2,313.3 513.7,369.4 438.3,369.4" fill="#fff" stroke="#262626" stroke-width="1.1"/>
<polygon points="470.9,298.0 484.1,298.0 488.4,313.3 466.6,313.3" fill="#fff" stroke="#262626" stroke-width="1.1"/>
<line x1="406.1" y1="255.3" x2="545.1" y2="255.3" stroke="#262626" stroke-width="1.2"/>
<line x1="406.1" y1="313.3" x2="545.1" y2="313.3" stroke="#262626" stroke-width="1.2"/>
<line x1="406.1" y1="369.4" x2="545.1" y2="369.4" stroke="#262626" stroke-width="1.2"/>
<rect x="406.1" y="235.7" width="139" height="153.5" fill="none" stroke="#262626" stroke-width="1.3"/>
<line x1="477.5" y1="259.8" x2="477.5" y2="294.0" stroke="#9B10D0" stroke-width="1.2"/>
<polygon points="475.0,260.8 477.5,256.3 480.0,260.8" fill="#9B10D0"/>
<polygon points="475.0,293.0 477.5,297.5 480.0,293.0" fill="#9B10D0"/>
<text x="436.2" y="250.8" font-family="'Liberation Sans', sans-serif" font-weight="bold" font-size="13.2" textLength="14.2" lengthAdjust="spacingAndGlyphs" stroke="#111" stroke-width="0.3" fill="#111">Pt</text>
<text x="456.90000000000003" y="251.2" font-family="'Liberation Sans', sans-serif" font-weight="bold" font-size="14" stroke="#111" stroke-width="0.3" fill="#111">(</text>
<rect x="463.2" y="245.5" width="9.600000000000023" height="1.9" fill="#111"/>
<rect x="480.8" y="245.5" width="9.599999999999966" height="1.9" fill="#111"/>
<rect x="498.4" y="245.5" width="9.600000000000023" height="1.9" fill="#111"/>
<text x="510.0" y="251.2" font-family="'Liberation Sans', sans-serif" font-weight="bold" font-size="14" stroke="#111" stroke-width="0.3" fill="#111">)</text>
<text x="475.9" y="384.9" text-anchor="middle" font-family="'Liberation Sans', sans-serif" font-weight="bold" font-size="14.3" word-spacing="3.6" stroke="#111" stroke-width="0.3" fill="#111">ITO (G)</text>
<text x="480.3" y="273.5" font-family="'Liberation Sans', sans-serif" font-weight="bold" font-size="9.2" textLength="17.4" lengthAdjust="spacingAndGlyphs" stroke="#9B10D0" stroke-width="0.4" fill="#9B10D0">Gap</text>
<text x="480.3" y="284.6" font-family="'Liberation Sans', sans-serif" font-weight="bold" font-size="9.4" textLength="39.5" lengthAdjust="spacingAndGlyphs" stroke="#9B10D0" stroke-width="0.4" fill="#9B10D0">increases</text>
<line x1="192.3" y1="313.5" x2="213.3" y2="313.5" stroke="#000" stroke-width="2"/>
<polygon points="212.10000000000002,310.6 217.60000000000002,313.5 212.10000000000002,316.4" fill="#000"/>
<line x1="373.2" y1="313.5" x2="394.2" y2="313.5" stroke="#000" stroke-width="2"/>
<polygon points="393.0,310.6 398.5,313.5 393.0,316.4" fill="#000"/>
</svg>
</body></html>
